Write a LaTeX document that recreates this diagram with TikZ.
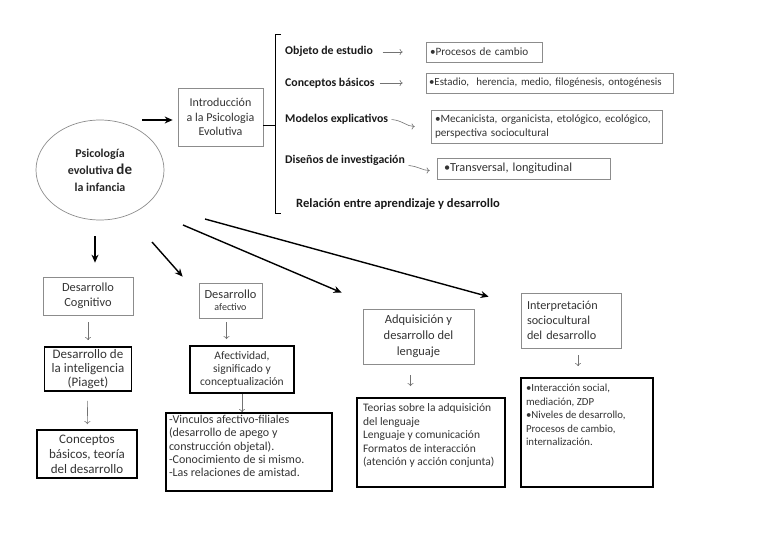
\documentclass[tikz,border=0pt]{standalone}
\usepackage{fontspec}
\setmainfont{Carlito}
\usetikzlibrary{arrows.meta,shapes.geometric}

\begin{document}
\begin{tikzpicture}[
  x=1pt, y=-1pt,
  lbox/.style={draw=black!45, line width=0.7pt, text=black!80, inner sep=2pt, align=center},
  hbox/.style={draw=black, line width=1.8pt, text=black!80, inner sep=2pt, align=center},
  lab/.style={anchor=west, inner sep=1pt, text=black!90, font=\fontsize{11.8}{13}\selectfont\bfseries},
  barr/.style={-{Stealth[length=8pt, width=7pt]}, line width=1.4pt},
  tarr/.style={-{To[length=3pt, width=6pt]}, draw=black!55, line width=0.6pt},
  f10/.style={font=\fontsize{11.2}{14}\selectfont},
  f12/.style={font=\fontsize{12.4}{15}\selectfont}
]
\useasboundingbox (0,0) rectangle (768,543);

% --- centre ---
\node[ellipse, draw=black!45, line width=0.7pt, minimum width=128pt, minimum height=100pt,
  align=center, text=black!85, font=\fontsize{12}{17}\selectfont\bfseries] (psi) at (100,170)
  {Psicología\\evolutiva {\fontsize{15}{17}\selectfont de}\\la infancia};

% --- introduction and its bracket ---
\node[lbox, font=\fontsize{12}{14.5}\selectfont, minimum width=85pt, minimum height=58pt] (intro) at (220.5,117)
  {Introducción\\a la Psicologia\\Evolutiva};
\draw[line width=1pt] (281,35) -- (275,35) -- (275,213) -- (281,213);
\draw[line width=1pt] ([shift={(0,8)}]intro.east) -- (275,125);

\node[lab] (obj) at (284,51)  {Objeto de estudio};
\node[lab] (cb)  at (284,83)  {Conceptos básicos};
\node[lab] (mod) at (284,119) {Modelos explicativos};
\node[lab] (dis) at (284,160) {Diseños de investigación};
\node[lab, font=\fontsize{12.6}{14}\selectfont\bfseries] (rel) at (295,204) {Relación entre aprendizaje y desarrollo};

\node[lbox, f10, inner xsep=4pt, minimum width=116pt, minimum height=20pt, text width=108pt, align=left] (proc) at (484,52)
  {•Procesos de cambio};
\node[lbox, font=\fontsize{10.9}{14}\selectfont, inner xsep=3pt, minimum width=247pt, minimum height=20pt, text width=241pt, align=left] (est) at (549.5,83)
  {\mbox{•Estadio, \ herencia, medio, filogénesis, ontogénesis}};
\node[lbox, f10, inner xsep=4pt, minimum width=231pt, minimum height=33pt, text width=223pt, align=left] (mec) at (546.5,126.5)
  {•Mecanicista, organicista, etológico, ecológico,\\perspectiva sociocultural};
\node[lbox, font=\fontsize{12.3}{14}\selectfont, inner xsep=7pt, minimum width=173pt, minimum height=21pt, text width=159pt, align=left] (tra) at (523.5,168.5)
  {•Transversal, longitudinal};

\draw[tarr] ([shift={(-43,0)}]proc.west) -- ([shift={(-23,0)}]proc.west);
\draw[tarr] ([shift={(-46,0)}]est.west) -- ([shift={(-23,0)}]est.west);
\draw[tarr] ([shift={(-39,-7)}]mec.west) .. controls ([shift={(-28,-6)}]mec.west) and ([shift={(-24,0)}]mec.west) .. ([shift={(-16,0)}]mec.west);
\draw[tarr] ([shift={(-28,-3)}]tra.west) .. controls ([shift={(-18,-2)}]tra.west) and ([shift={(-14,2)}]tra.west) .. ([shift={(-7,2)}]tra.west);

% --- lower branches ---
\node[lbox, f12, minimum width=90pt, minimum height=38pt] (cog) at (88,296) {Desarrollo\\Cognitivo};
\node[hbox, font=\fontsize{13}{13.8}\selectfont, minimum width=87pt, minimum height=44pt] (intel) at (88,369)
  {Desarrollo de\\la inteligencia\\(Piaget)};
\node[hbox, font=\fontsize{13}{15}\selectfont, minimum width=100pt, minimum height=48pt] (concb) at (87,454)
  {Conceptos\\básicos, teoría\\del desarrollo};

\node[lbox, f12, minimum width=63pt, minimum height=35pt] (afec) at (230.5,300.5)
  {Desarrollo\\[-3pt]{\fontsize{10}{11}\selectfont afectivo}};
\node[hbox, font=\fontsize{11.5}{13}\selectfont, minimum width=104pt, minimum height=47pt] (afect) at (242,369.5)
  {Afectividad,\\significado y\\conceptualización};
\node[hbox, font=\fontsize{12}{13.4}\selectfont, inner xsep=3pt, inner ysep=2pt] (vinc) at (249,452)
  {\parbox[c][74pt][t]{160pt}{\raggedright -Vinculos afectivo-filiales\\(desarrollo de apego y\\construcción objetal).\\-Conocimiento de si mismo.\\-Las relaciones de amistad.}};

\node[lbox, font=\fontsize{12.5}{16}\selectfont, minimum width=111pt, minimum height=55pt] (lang) at (418.5,336.5)
  {Adquisición y\\desarrollo del\\lenguaje};
\node[hbox, font=\fontsize{11.5}{13.5}\selectfont, inner xsep=6pt, inner ysep=6pt] (teor) at (431,442.5)
  {\parbox[c][77pt][t]{136pt}{\raggedright Teorias sobre la adquisición\\del lenguaje\\Lenguaje y comunicación\\Formatos de interacción\\(atención y acción conjunta)}};

\node[lbox, font=\fontsize{12.2}{15}\selectfont, inner xsep=6pt, minimum width=100pt, minimum height=55pt, text width=88pt, align=left] (interp) at (571,320.5)
  {Interpretación\\sociocultural\\del desarrollo};
\node[hbox, font=\fontsize{10.8}{13.5}\selectfont, inner xsep=5pt, inner ysep=6pt] (inter) at (587,432.5)
  {\parbox[c][97pt][t]{122pt}{\raggedright •Interacción social,\\mediación, ZDP\\•Niveles de desarrollo,\\Procesos de cambio,\\internalización.}};

% --- thick arrows from the centre ---
\draw[barr] ([shift={(42,-50)}]psi.center) -- ([shift={(-5,3)}]intro.west);
\draw[barr] ([shift={(-5,16)}]psi.south) -- ([shift={(7,-14)}]cog.north);
\draw[barr] ([shift={(52,72)}]psi.center) -- ([shift={(-16,-6)}]afec.north west);
\draw[barr] ([shift={(83,55)}]psi.center) -- ([shift={(-21,-16)}]lang.north west);
\draw[barr] ([shift={(105,49)}]psi.center) -- ([shift={(-32,4)}]interp.north west);

% --- thin arrows down each branch ---
\draw[tarr, shorten <=7pt, shorten >=6pt] (cog) -- (intel);
\draw[tarr, shorten <=9pt, shorten >=5pt] (intel) -- (concb);
\draw[tarr, shorten <=4pt, shorten >=6pt] ([shift={(-4,0)}]afec.south) -- ([shift={(-4,0)}]afec.south |- afect.north);
\draw[tarr] (afect.south) -- (afect.south |- vinc.north);
\draw[tarr, shorten <=11pt, shorten >=11pt] ([shift={(-8,0)}]lang.south) -- ([shift={(-8,0)}]lang.south |- teor.north);
\draw[tarr, shorten <=7pt, shorten >=11pt] ([shift={(7,0)}]interp.south) -- ([shift={(7,0)}]interp.south |- inter.north);

\end{tikzpicture}
\end{document}
